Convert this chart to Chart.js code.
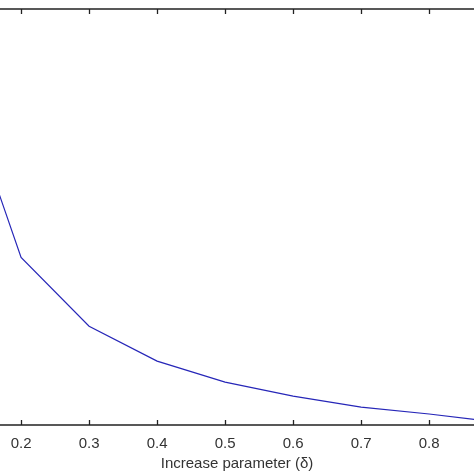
<!DOCTYPE html><html><head><meta charset="utf-8">
<script src="https://cdn.jsdelivr.net/npm/chart.js@4"></script>
<style>html,body{margin:0;padding:0;background:#fff}#w{width:474px;height:474px}</style></head><body><div id="w"><canvas id="c"></canvas></div>
<script>
const deltas=[0.1,0.2,0.3,0.4,0.5,0.6,0.7,0.8,0.9];
const values=[365,168,99,64,43,29,18,11,3];
const xTicks=[0.2,0.3,0.4,0.5,0.6,0.7,0.8];
const xTitle='Increase parameter (δ)';
const inTicks={id:'inTicks',afterDraw(ch){const c=ch.ctx,a=ch.chartArea,x=ch.scales.x;c.save();c.strokeStyle='#222';c.lineWidth=1.3;
c.beginPath();c.moveTo(a.left,a.top);c.lineTo(a.right,a.top);c.moveTo(a.left,a.bottom);c.lineTo(a.right,a.bottom);c.stroke();
c.beginPath();xTicks.forEach(v=>{const p=Math.round(x.getPixelForValue(v))+0.5;c.moveTo(p,a.bottom);c.lineTo(p,a.bottom-5);c.moveTo(p,a.top);c.lineTo(p,a.top+5);});c.stroke();c.restore();}};
new Chart(document.getElementById('c'),{type:'line',data:{datasets:[{data:deltas.map((d,i)=>({x:d,y:values[i]})),borderColor:'#2626b8',borderWidth:1.2,pointRadius:0,tension:0}]},
options:{responsive:true,maintainAspectRatio:false,animation:false,layout:{padding:{top:9,left:0,right:0,bottom:0}},plugins:{legend:{display:false},tooltip:{enabled:false}},
scales:{x:{type:'linear',min:0.169,max:0.866,afterBuildTicks(s){s.ticks=xTicks.map(v=>({value:v}));},border:{display:false},grid:{display:false},
ticks:{autoSkip:false,maxRotation:0,padding:2,color:'#333',font:{family:'Liberation Sans',size:15},callback:v=>v.toFixed(1)},
title:{display:true,text:xTitle,color:'#333',padding:{top:0,bottom:1},font:{family:'Liberation Sans',size:15}}},
y:{display:false,min:0,max:417}}},plugins:[inTicks]});
</script></body></html>
